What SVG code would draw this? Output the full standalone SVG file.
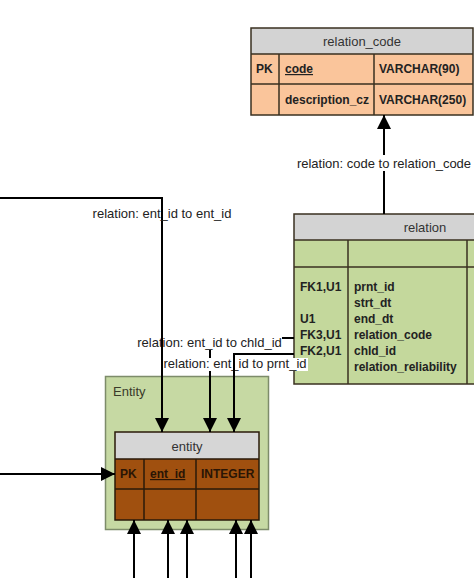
<svg xmlns="http://www.w3.org/2000/svg" width="474" height="578" viewBox="0 0 474 578">
<style>
  text { font-family: "Liberation Sans", Arial, sans-serif; }
  .hdr { font-size: 13px; fill: #333; text-anchor: middle; }
  .b { font-size: 12px; font-weight: bold; fill: #222; }
  .u { text-decoration: underline; }
  .lbl { font-size: 13px; fill: #222; text-anchor: middle; }
  .grid { stroke: #3a3020; stroke-width: 1.5; fill: none; }
  .conn { stroke: #000; stroke-width: 2; fill: none; marker-end: url(#ah); }
  .lbg { fill: #fff; }
</style>
<defs>
  <marker id="ah" viewBox="0 0 14 14" markerWidth="14" markerHeight="14" refX="14" refY="7" orient="auto" markerUnits="userSpaceOnUse">
    <path d="M0,0 L14,7 L0,14 z" fill="#000"/>
  </marker>
</defs>
<rect width="474" height="578" fill="#fff"/>

<g id="relation_code">
  <rect x="251" y="28" width="222" height="26" fill="#d3d3d3"/>
  <rect x="251" y="54" width="222" height="61" fill="#fac59b"/>
  <rect x="251" y="28" width="222" height="87" class="grid"/>
  <path d="M251,54 H473 M251,84 H473 M279,54 V115 M374,54 V115" class="grid"/>
  <text x="362" y="46" class="hdr">relation_code</text>
  <text x="256" y="73" class="b">PK</text>
  <text x="285" y="73" class="b u">code</text>
  <text x="379" y="73" class="b">VARCHAR(90)</text>
  <text x="285" y="104" class="b">description_cz</text>
  <text x="379" y="104" class="b">VARCHAR(250)</text>
</g>

<g id="relation">
  <rect x="294" y="214" width="262" height="26" fill="#d3d3d3"/>
  <rect x="294" y="240" width="262" height="144" fill="#c4d89c"/>
  <rect x="294" y="214" width="262" height="170" class="grid"/>
  <path d="M294,240 H556 M294,267 H556 M348,240 V384 M467,240 V384" class="grid"/>
  <text x="425" y="232" class="hdr">relation</text>
  <text x="300" y="291" class="b">FK1,U1</text>
  <text x="300" y="323" class="b">U1</text>
  <text x="300" y="339" class="b">FK3,U1</text>
  <text x="300" y="355" class="b">FK2,U1</text>
  <text x="354" y="291" class="b">prnt_id</text>
  <text x="354" y="307" class="b">strt_dt</text>
  <text x="354" y="323" class="b">end_dt</text>
  <text x="354" y="339" class="b">relation_code</text>
  <text x="354" y="355" class="b">chld_id</text>
  <text x="354" y="371" class="b">relation_reliability</text>
</g>

<g id="Entity">
  <rect x="105.5" y="376.5" width="163" height="153" fill="#c6d9a3" stroke="#7d8c6a" stroke-width="1.5"/>
  <text x="113" y="396" style="font-size:13px;fill:#3a3a2a">Entity</text>
</g>

<g id="entity">
  <rect x="115" y="432" width="144" height="27" fill="#d6d6d6"/>
  <rect x="115" y="459" width="144" height="61" fill="#a0500f"/>
  <rect x="115" y="432" width="144" height="88" class="grid" style="stroke:#2a1a0a"/>
  <path d="M115,459 H259 M115,489 H259 M144,459 V520 M196,459 V520" class="grid" style="stroke:#2a1a0a"/>
  <text x="187" y="451" class="hdr">entity</text>
  <text x="120" y="478" class="b" style="fill:#2a1505">PK</text>
  <text x="150" y="478" class="b u" style="fill:#2a1505">ent_id</text>
  <text x="201" y="478" class="b" style="fill:#2a1505">INTEGER</text>
</g>

<g id="connectors">
  <path d="M384,214 V115" class="conn"/>
  <rect x="297" y="155" width="174" height="16" class="lbg"/>
  <text x="384" y="168" class="lbl">relation: code to relation_code</text>

  <path d="M294,338 H210 V432" class="conn"/>
  <path d="M294,354 H234 V432" class="conn"/>
  <rect x="137" y="336" width="145" height="14" class="lbg"/>
  <text x="209.5" y="347" class="lbl">relation: ent_id to chld_id</text>
  <rect x="162" y="358" width="146" height="13" class="lbg"/>
  <text x="235" y="368" class="lbl">relation: ent_id to prnt_id</text>
  <path d="M210,350 V358 M234,358 V371" stroke="#000" stroke-width="2"/>

  <path d="M0,198 H162 V432" class="conn"/>
  <text x="162" y="218" class="lbl">relation: ent_id to ent_id</text>

  <path d="M0,474 H115" class="conn"/>
  <path d="M134,578 V520" class="conn"/>
  <path d="M168,578 V520" class="conn"/>
  <path d="M187,578 V520" class="conn"/>
  <path d="M236,578 V520" class="conn"/>
  <path d="M251,578 V520" class="conn"/>
</g>
</svg>
